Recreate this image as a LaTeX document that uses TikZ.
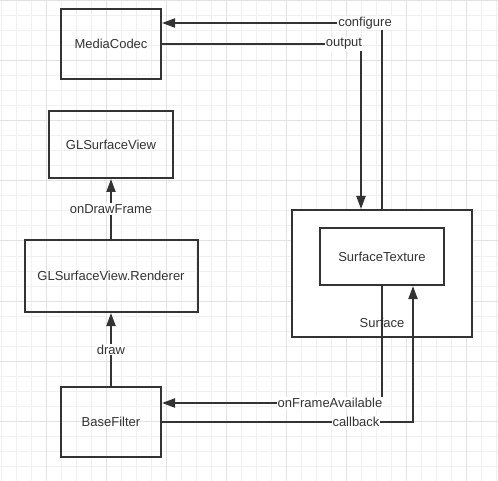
\documentclass[tikz,border=0pt]{standalone}
\usepackage{fontspec}
\setmainfont{Liberation Sans}
\usepackage{tikz}
\usetikzlibrary{arrows.meta,positioning}

\definecolor{ink}{HTML}{333333}
\definecolor{gridminor}{HTML}{F0F0F0}
\definecolor{gridmajor}{HTML}{E2E2E2}

\tikzset{
    box/.style={draw=ink, line width=2pt, inner sep=0pt, text=ink, font=\fontsize{13}{15}\selectfont},
    link/.style={draw=ink, line width=2pt, -{Triangle[length=13pt,width=9pt]}},
    tag/.style={fill=white, inner sep=1pt, text=ink, font=\fontsize{13}{15}\selectfont},
}

\begin{document}
\begin{tikzpicture}[x=1pt, y=-1pt]
    \useasboundingbox (0,0) rectangle (498,481);
    \fill[white] (0,0) rectangle (498,481);
    \foreach \gx in {0,...,33}
        \draw[gridminor, line width=1pt] (1+15*\gx,0) -- (1+15*\gx,481);
    \foreach \gy in {0,...,32}
        \draw[gridminor, line width=1pt] (0,1+15*\gy) -- (498,1+15*\gy);
    \foreach \gx in {0,...,7}
        \draw[gridmajor, line width=1pt] (46+60*\gx,0) -- (46+60*\gx,481);
    \foreach \gy in {0,...,8}
        \draw[gridmajor, line width=1pt] (0,1+60*\gy) -- (498,1+60*\gy);

    \node[box, minimum width=100pt, minimum height=70pt] (codec) at (111,44) {MediaCodec};
    \node[box, minimum width=124pt, minimum height=67pt] (glview) at (111,144.5) {GLSurfaceView};
    \node[box, minimum width=173pt, minimum height=72pt] (renderer) at (111,276) {GLSurfaceView.Renderer};
    \node[box, minimum width=100pt, minimum height=70pt] (filter) at (111,422) {BaseFilter};
    \node[box, fill=white, minimum width=180pt, minimum height=127pt] (surf) at (382,273.5) {};
    \node[box, minimum width=124pt, minimum height=57pt] (tex) at (382,256.5) {SurfaceTexture};
    \node[text=ink, font=\fontsize{13}{15}\selectfont] (surfname) at (382,323) {Surface};

    \draw[link] (surf.north) |- node[tag, xshift=-17pt] {configure} ([yshift=21pt]codec.east);
    \draw[link] (codec.east) -| node[tag, xshift=-17pt] {output} ([xshift=-21pt]surf.north);
    \draw[link] (renderer) -- node[tag] {onDrawFrame} (glview);
    \draw[link] (filter) -- node[tag] {draw} (renderer);
    \draw[link] (tex.south) |- node[tag, xshift=-52pt] {onFrameAvailable} ([yshift=19pt]filter.east);
    \draw[link] (filter.east) -| node[tag, xshift=-57pt] {callback} ([xshift=31pt]tex.south);
\end{tikzpicture}
\end{document}
